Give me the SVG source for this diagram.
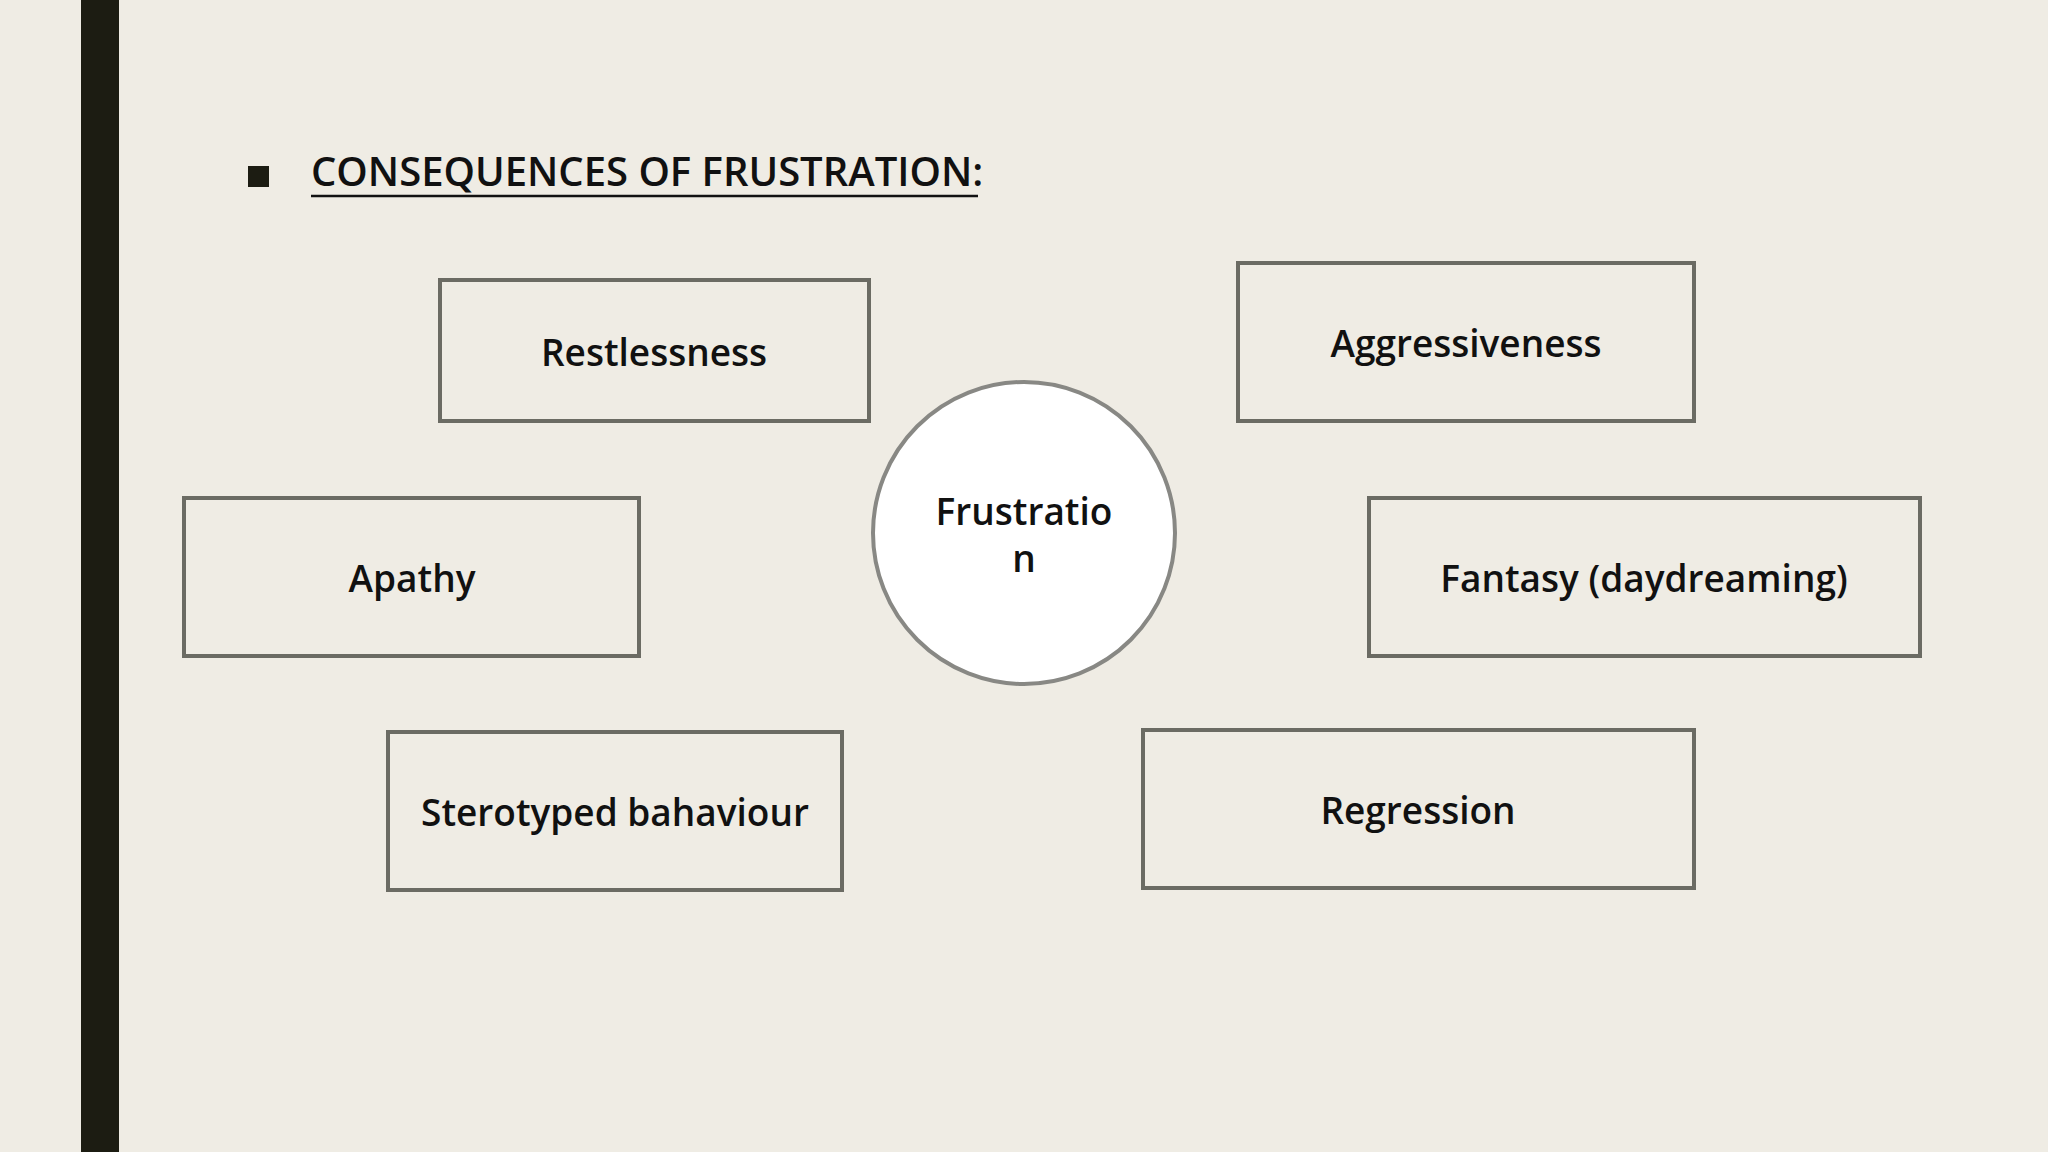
<svg xmlns="http://www.w3.org/2000/svg" width="2048" height="1152" viewBox="0 0 2048 1152">
<style>
.box{fill:none;stroke:#6b6b63;stroke-width:4}
.t{font-family:"Open Sans","Noto Sans",sans-serif;font-weight:600;font-size:37px;fill:#111;text-anchor:middle;dominant-baseline:central}
</style>
<rect width="2048" height="1152" fill="#efece4"/>
<rect x="81" y="0" width="38" height="1152" fill="#1c1c12"/>
<rect x="248" y="166" width="21" height="21" fill="#1c1c12"/>
<text x="311" y="186" font-family="'Open Sans','Noto Sans',sans-serif" font-weight="600" font-size="40" fill="#111">CONSEQUENCES OF FRUSTRATION:</text>
<line x1="311" y1="196" x2="978" y2="196" stroke="#111" stroke-width="2.5"/>
<g id="connectors"/>
<g id="restlessness"><rect class="box" x="440" y="280" width="429" height="141"/><text class="t" x="654" y="351">Restlessness</text></g>
<g id="aggressiveness"><rect class="box" x="1238" y="263" width="456" height="158"/><text class="t" x="1466" y="342">Aggressiveness</text></g>
<g id="apathy"><rect class="box" x="184" y="498" width="455" height="158"/><text class="t" x="412" y="577">Apathy</text></g>
<g id="fantasy"><rect class="box" x="1369" y="498" width="551" height="158"/><text class="t" x="1644" y="577">Fantasy (daydreaming)</text></g>
<g id="sterotyped"><rect class="box" x="388" y="732" width="454" height="158"/><text class="t" x="615" y="811">Sterotyped bahaviour</text></g>
<g id="regression"><rect class="box" x="1143" y="730" width="551" height="158"/><text class="t" x="1418" y="809">Regression</text></g>
<g id="frustration"><circle cx="1024" cy="533" r="151" fill="#fff" stroke="#888884" stroke-width="4"/><text class="t" x="1024" y="510">Frustratio</text><text class="t" x="1024" y="557">n</text></g>
</svg>
